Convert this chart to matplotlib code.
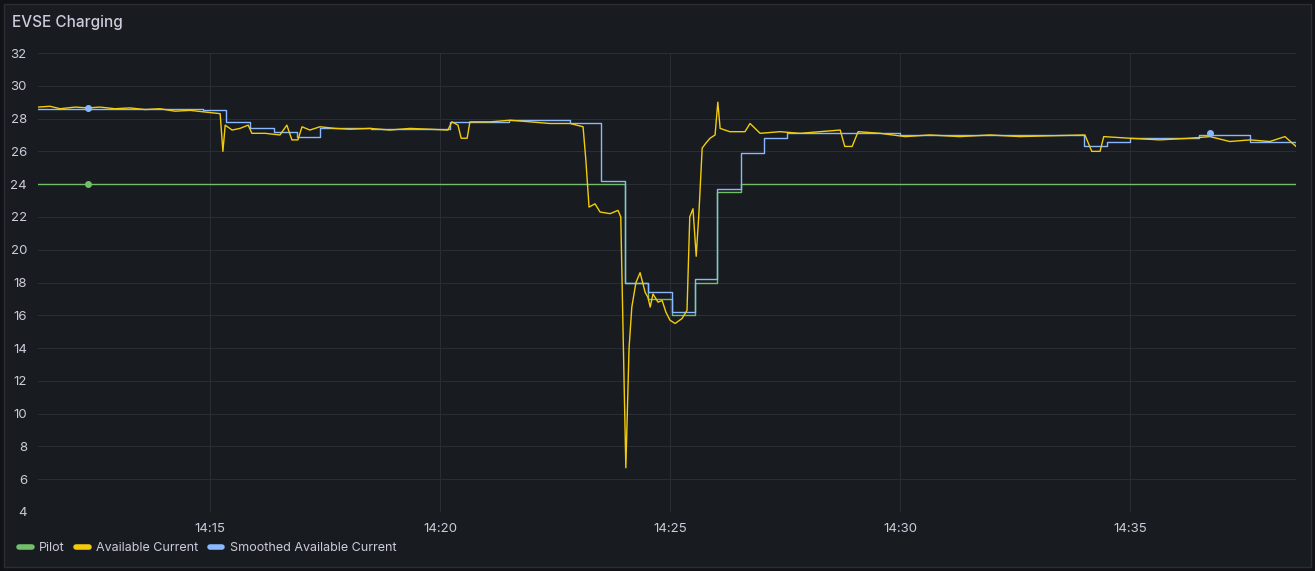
import matplotlib
matplotlib.use("Agg")
import matplotlib.pyplot as plt
from matplotlib.lines import Line2D

plt.rcParams['font.family'] = ['Inter', 'DejaVu Sans']

# times in minutes after 14:00
avail_t = [11.26,11.52,11.74,12.07,12.35,12.61,12.93,13.26,13.59,13.91,14.24,14.57,14.89,15.22,15.28,15.33,15.48,15.65,15.83,15.91,16.2,16.52,16.67,16.78,16.91,17.0,17.17,17.39,17.72,18.04,18.48,18.91,19.35,19.78,20.17,20.26,20.39,20.46,20.59,20.65,21.09,21.52,21.96,22.39,22.83,23.11,23.17,23.24,23.37,23.48,23.7,23.87,23.93,23.98,24.04,24.11,24.17,24.26,24.35,24.46,24.52,24.57,24.63,24.74,24.83,24.91,25.0,25.11,25.26,25.37,25.43,25.5,25.57,25.63,25.7,25.78,25.87,25.98,26.04,26.09,26.3,26.63,26.74,26.96,27.39,27.83,28.26,28.7,28.8,28.96,29.09,29.57,30.11,30.65,31.3,31.96,32.61,33.26,34.02,34.17,34.35,34.43,35.0,35.65,36.3,36.74,37.17,37.61,38.04,38.37,38.61]
avail_v = [28.7,28.75,28.6,28.7,28.65,28.7,28.6,28.65,28.55,28.6,28.45,28.5,28.4,28.3,26.0,27.6,27.3,27.4,27.6,27.1,27.1,27.0,27.6,26.7,26.7,27.5,27.3,27.5,27.4,27.35,27.4,27.3,27.4,27.35,27.3,27.8,27.6,26.8,26.8,27.8,27.8,27.9,27.8,27.7,27.7,27.5,25.5,22.6,22.8,22.3,22.2,22.4,22.0,15.0,6.7,14.0,16.5,18.0,18.6,17.4,17.1,16.5,17.3,16.8,16.9,16.2,15.7,15.5,15.8,16.3,22.0,22.5,19.6,22.3,26.2,26.5,26.8,27.0,29.0,27.4,27.2,27.2,27.7,27.1,27.2,27.1,27.2,27.3,26.3,26.3,27.2,27.1,26.9,27.0,26.9,27.0,26.9,26.95,27.0,26.0,26.0,26.9,26.8,26.7,26.8,26.9,26.6,26.7,26.6,26.9,26.3]

smooth_t = [11.26,14.85,15.35,15.87,16.39,16.89,17.39,18.5,20.22,21.5,22.83,23.5,24.02,24.52,25.04,25.54,26.02,26.54,27.04,27.54,30.0,34.0,34.5,35.0,36.5,37.61,38.61]
smooth_v = [28.6,28.5,27.8,27.4,27.2,26.9,27.4,27.35,27.8,27.9,27.7,24.2,18.0,17.4,16.2,18.2,23.7,25.9,26.8,27.1,27.0,26.3,26.6,26.8,27.0,26.6,26.4]

pilot_t = [11.26,24.02,24.52,25.04,25.54,26.02,26.54,38.61]
pilot_v = [24.0,18.0,17.0,16.0,18.0,23.5,24.0,24.0]

xticks = [15,20,25,30,35]
xlabels = ["14:15","14:20","14:25","14:30","14:35"]

BG = "#181b1f"
TXT = "#ccccdc"
GREEN, YELLOW, BLUE = "#73BF69", "#F2CC0C", "#8AB8FF"

fig = plt.figure(figsize=(13.15,5.71), dpi=100, facecolor="#111217")
panel = plt.Rectangle((4/1315, 4/571), 1307/1315, 563/571, transform=fig.transFigure,
                      facecolor=BG, edgecolor="#2a2d33", lw=1, zorder=-10)
fig.patches.append(panel)
ax = fig.add_axes([38/1315, 59/571, 1258/1315, 459/571])
ax.set_facecolor(BG)
ax.plot(pilot_t, pilot_v, color=GREEN, lw=1, drawstyle="steps-post")
ax.plot(smooth_t, smooth_v, color=BLUE, lw=1, drawstyle="steps-post")
ax.plot(avail_t, avail_v, color=YELLOW, lw=1)
ax.plot([12.35],[24.0], "o", color=GREEN, ms=4)
ax.plot([12.35],[28.65], "o", color=BLUE, ms=4)
ax.plot([36.74],[27.1], "o", color=BLUE, ms=4)
ax.set_xlim(11.26, 38.61)
ax.set_ylim(4, 32)
ax.set_yticks(range(4, 33, 2))
ax.set_xticks(xticks)
ax.set_xticklabels(xlabels)
ax.grid(color="#2a2d33", lw=0.8)
for s in ax.spines.values():
    s.set_visible(False)
ax.tick_params(colors=TXT, labelsize=9.5, length=0, pad=8)
fig.text(12/1315, 1-22/571, "EVSE Charging", color=TXT, fontsize=11, va="center", fontweight="medium")
handles = [Line2D([], [], color=c, lw=4, solid_capstyle="round") for c in (GREEN, YELLOW, BLUE)]
fig.legend(handles, ["Pilot", "Available Current", "Smoothed Available Current"],
           loc="center left", bbox_to_anchor=(8/1315, 1-548/571), ncol=3, frameon=False,
           labelcolor=TXT, fontsize=9, handlelength=1.0, handletextpad=0.6, columnspacing=0.9)
fig.savefig("out.png", facecolor=fig.get_facecolor())
